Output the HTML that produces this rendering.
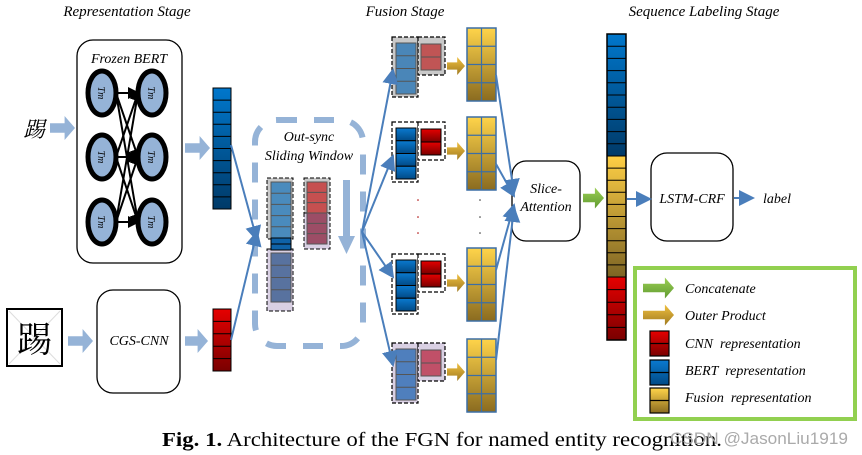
<!DOCTYPE html>
<html><head><meta charset="utf-8"><style>
html,body{margin:0;padding:0;background:#fff;width:862px;height:455px;overflow:hidden}
svg{display:block}
.it{font-family:"Liberation Serif","Noto Serif CJK SC",serif;font-style:italic;fill:#000}
</style></head><body>
<svg id="s" width="862" height="455" xmlns="http://www.w3.org/2000/svg">
<defs>
<linearGradient id="gb" x1="0" y1="0" x2="0" y2="1"><stop offset="0" stop-color="#0a7ad0"/><stop offset="1" stop-color="#014a86"/></linearGradient>
<linearGradient id="gbv" x1="0" y1="0" x2="0" y2="1"><stop offset="0" stop-color="#0077cc"/><stop offset="1" stop-color="#003a68"/></linearGradient>
<linearGradient id="gr" x1="0" y1="0" x2="0" y2="1"><stop offset="0" stop-color="#e60000"/><stop offset="1" stop-color="#7a0000"/></linearGradient>
<linearGradient id="gy" x1="0" y1="0" x2="0" y2="1"><stop offset="0" stop-color="#ffd44a"/><stop offset="1" stop-color="#8a6b20"/></linearGradient>
<linearGradient id="gyc" x1="0" y1="0" x2="0" y2="1"><stop offset="0" stop-color="#fecf45"/><stop offset="1" stop-color="#7d6424"/></linearGradient>
<linearGradient id="ga" x1="0" y1="0" x2="0" y2="1"><stop offset="0" stop-color="#f0c040"/><stop offset="1" stop-color="#a07a20"/></linearGradient>
<linearGradient id="gg" x1="0" y1="0" x2="0" y2="1"><stop offset="0" stop-color="#9ccf55"/><stop offset="1" stop-color="#5f9a30"/></linearGradient>
<marker id="ah" markerWidth="8" markerHeight="8" refX="7" refY="4" orient="auto" markerUnits="strokeWidth"><path d="M0,0 L8,4 L0,8 z" fill="#4a7ebb"/></marker>
<marker id="ak" markerWidth="6" markerHeight="6" refX="5.5" refY="3" orient="auto" markerUnits="strokeWidth"><path d="M0,0 L6,3 L0,6 z" fill="#000"/></marker>
</defs>

<text class="it" x="127" y="16" font-size="15" text-anchor="middle">Representation Stage</text>
<text class="it" x="405" y="16" font-size="15" text-anchor="middle">Fusion Stage</text>
<text class="it" x="704" y="16" font-size="15" text-anchor="middle">Sequence Labeling Stage</text>

<rect x="77" y="40" width="105" height="223" rx="16" fill="#fff" stroke="#000" stroke-width="1.3"/>
<text class="it" x="129" y="63" font-size="14" text-anchor="middle">Frozen BERT</text>
<g id="bert"></g>

<text class="it" x="34" y="137" font-size="22" text-anchor="middle">踢</text>
<rect x="7" y="309" width="55" height="57" fill="#fff" stroke="#000" stroke-width="2"/>
<line x1="9" y1="311" x2="60" y2="364" stroke="#ddd"/><line x1="60" y1="311" x2="9" y2="364" stroke="#ddd"/>
<text x="34.5" y="352" font-size="36" text-anchor="middle" font-family="'Noto Serif CJK SC','Noto Sans CJK SC',serif">踢</text>

<rect x="97" y="290" width="83" height="103" rx="16" fill="#fff" stroke="#000" stroke-width="1.3"/>
<text class="it" x="139" y="345" font-size="14" text-anchor="middle">CGS-CNN</text>

<rect x="255" y="120" width="108" height="226" rx="22" fill="none" stroke="#95b3d7" stroke-width="6" stroke-dasharray="20 17"/>
<text class="it" x="309" y="141" font-size="14" text-anchor="middle">Out-sync</text>
<text class="it" x="309" y="160" font-size="14" text-anchor="middle">Sliding Window</text>
<rect x="343" y="180" width="7" height="58" fill="#95b3d7"/><path d="M338,236 L355,236 L346.5,254 z" fill="#95b3d7"/>

<rect x="512" y="161" width="68" height="80" rx="14" fill="#fff" stroke="#000" stroke-width="1.3"/>
<text class="it" x="546" y="193" font-size="14" text-anchor="middle">Slice-</text>
<text class="it" x="546" y="211" font-size="14" text-anchor="middle">Attention</text>

<rect x="651" y="153" width="82" height="88" rx="16" fill="#fff" stroke="#000" stroke-width="1.3"/>
<text class="it" x="692" y="203" font-size="14" text-anchor="middle">LSTM-CRF</text>
<text class="it" x="763" y="203" font-size="14">label</text>

<rect x="635" y="268" width="220" height="151" fill="#fff" stroke="#92d050" stroke-width="4"/>
<text class="it" x="685" y="293" font-size="14">Concatenate</text>
<text class="it" x="685" y="320" font-size="14">Outer Product</text>
<text class="it" x="685" y="348" font-size="14" xml:space="preserve">CNN  representation</text>
<text class="it" x="685" y="375" font-size="14" xml:space="preserve">BERT  representation</text>
<text class="it" x="685" y="402" font-size="14" xml:space="preserve">Fusion  representation</text>

<g id="gen"></g>

<text x="162" y="446" font-size="20" font-family="'Liberation Serif',serif" textLength="560" lengthAdjust="spacingAndGlyphs"><tspan font-weight="bold">Fig. 1.</tspan> Architecture of the FGN for named entity recognition.</text>
<text x="670" y="444" font-size="17" fill="#aaa" font-family="'Liberation Sans',sans-serif" textLength="178" lengthAdjust="spacingAndGlyphs">CSDN @JasonLiu1919</text>
</svg>
<script>
var NS="http://www.w3.org/2000/svg",G=document.getElementById('gen');
function el(t,a,p){var e=document.createElementNS(NS,t);for(var k in a)e.setAttribute(k,a[k]);(p||G).appendChild(e);return e;}
function stack(x,y,w,h,n,fill,stroke,sw,per){
  if(!per){el('rect',{x:x,y:y,width:w,height:h,fill:fill,stroke:stroke,'stroke-width':sw});}
  for(var i=0;i<n;i++){var cy=y+h*i/n;
    if(per)el('rect',{x:x,y:cy,width:w,height:h/n,fill:fill,stroke:stroke,'stroke-width':sw});
    else if(i>0)el('line',{x1:x,y1:cy,x2:x+w,y2:cy,stroke:stroke,'stroke-width':sw});}
}
function fatArrow(x1,y,x2,col,hw){hw=hw||6;var bh=hw*0.6;
  el('path',{d:'M'+x1+','+(y-bh)+' L'+(x2-hw*1.3)+','+(y-bh)+' L'+(x2-hw*1.3)+','+(y-hw*1.5)+' L'+x2+','+y+' L'+(x2-hw*1.3)+','+(y+hw*1.5)+' L'+(x2-hw*1.3)+','+(y+bh)+' L'+x1+','+(y+bh)+' z',fill:col});}
function line(x1,y1,x2,y2){el('line',{x1:x1,y1:y1,x2:x2,y2:y2,stroke:'#4a7ebb','stroke-width':2,'marker-end':'url(#ah)'});}
var B=document.getElementById('bert'),ys=[93,157,222];
for(var i=0;i<3;i++)for(var j=0;j<3;j++){
  var y1=ys[i],y2=ys[j],x1=116,x2=139;
  el('line',{x1:x1,y1:y1,x2:x2,y2:y2+(i-j)*-3,stroke:'#000','stroke-width':2,'marker-end':'url(#ak)'},B);}
ys.forEach(function(y){[102,152].forEach(function(x){
  el('ellipse',{cx:x,cy:y,rx:14,ry:22,fill:'#95b3d7',stroke:'#000','stroke-width':5},B);
  var t=el('text',{x:x,y:y+4,'font-size':10,'text-anchor':'middle',class:'it',transform:'rotate(90 '+x+' '+y+')'},B);t.textContent='Tm';});});
fatArrow(50,128,75,'#95b3d7',8);fatArrow(185,148,210,'#95b3d7',8);
fatArrow(68,341,93,'#95b3d7',8);fatArrow(185,341,208,'#95b3d7',8);
stack(213,88,18,121,10,'url(#gbv)','#000',1);
stack(213,309,18,62,5,'url(#gr)','#000',1);
line(231,145,257,240);line(231,340,257,232);
el('rect',{x:267,y:178,width:26,height:61,fill:'#c9c9c9',stroke:'#000','stroke-dasharray':'4 2'});
el('rect',{x:267,y:249,width:26,height:62,fill:'#d9d0e3',stroke:'#000','stroke-dasharray':'4 2'});
stack(271,182,20,56,5,'#4a8bbd','#555',1);
stack(271,238,20,12,2,'#0f62a8','#000',1);
stack(271,253,20,49,4,'#58729f','#555',1);
el('rect',{x:304,y:178,width:26,height:35,fill:'#c9c9c9',stroke:'#000','stroke-dasharray':'4 2'});
el('rect',{x:304,y:213,width:26,height:36,fill:'#d9d0e3',stroke:'#000','stroke-dasharray':'4 2'});
stack(307,182,20,31,3,'#c65050','#555',1);
stack(307,213,20,31,3,'#9c4d66','#555',1);
var groups=[[37,'#c9c9c9','#4a86b8','#c05555',28],[122,'#fff','url(#gb)','url(#gr)',117],[254,'#fff','url(#gb)','url(#gr)',248],[343,'#d9d0e3','#4f7fbd','#c05068',339]];
groups.forEach(function(g,k){var y=g[0];
  el('rect',{x:392,y:y,width:26,height:60,fill:g[1],stroke:'#000','stroke-dasharray':'4 2','stroke-width':1.2});
  el('rect',{x:418,y:y,width:27,height:38,fill:g[1],stroke:'#000','stroke-dasharray':'4 2','stroke-width':1.2});
  stack(396,y+6,20,51,4,g[2],k%3?'#000':'#555',1,k==1||k==2);
  stack(421,y+7,20,26,2,g[3],k%3?'#000':'#555',1,k==1||k==2);
  fatArrow(447,y+29,465,'url(#ga)',6);
  var gy=g[4];el('rect',{x:467,y:gy,width:29,height:73,fill:'url(#gy)',stroke:'#3c6ea5','stroke-width':1.5});
  el('line',{x1:481.5,y1:gy,x2:481.5,y2:gy+73,stroke:'#3c6ea5','stroke-width':1.2});
  for(var r=1;r<4;r++)el('line',{x1:467,y1:gy+r*73/4,x2:496,y2:gy+r*73/4,stroke:'#3c6ea5','stroke-width':1.2});
});
line(362,232,393,70);line(362,232,393,156);line(362,232,393,277);line(362,232,393,365);
line(496,75,514,193);line(496,164,514,196);line(496,270,514,205);line(496,360,514,208);
[200,217,233].forEach(function(y){el('circle',{cx:418,cy:y,r:0.8,fill:'#a00'});el('circle',{cx:480,cy:y,r:0.8,fill:'#333'});});
fatArrow(583,198,604,'url(#gg)',7);
stack(607,34,19,122,10,'url(#gbv)','#000',1);
stack(607,156,19,121,10,'url(#gyc)','#000',1);
stack(607,277,19,63,5,'url(#gr)','#000',1);
el('rect',{x:607,y:34,width:19,height:306,fill:'none',stroke:'#000','stroke-width':1.5});
line(627,199,650,199);line(734,198,753,198);
fatArrow(643,288,674,'url(#gg)',7);fatArrow(643,315,674,'url(#ga)',7);
stack(650,331,19,25,2,'url(#gr)','#000',1.2);
stack(650,360,19,25,2,'url(#gb)','#000',1.2);
stack(650,388,19,25,2,'url(#gy)','#000',1.2);
</script>
</body></html>
